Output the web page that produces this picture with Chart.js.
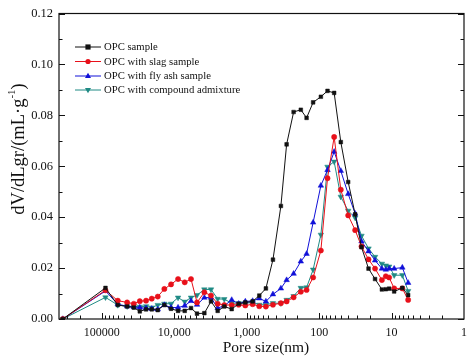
<!DOCTYPE html>
<html>
<head>
<meta charset="utf-8">
<script src="https://cdn.jsdelivr.net/npm/chart.js@4/dist/chart.umd.min.js"></script>
<style>
  html, body { margin: 0; padding: 0; background: #fff; }
  #wrap { width: 474px; height: 361px; }
</style>
</head>
<body>
<div id="wrap"><canvas id="chart" width="474" height="361"></canvas></div>
<script>
// Pore size (nm) of each measured point
const poreSize = [345000, 89000, 60200, 44700, 36200, 29900, 24500, 20450, 16900, 13700, 11070,
    8860, 7170, 5870, 4850, 3840, 3110, 2515, 2040, 1610, 1290, 1045, 828, 670, 543,
    434, 337, 281, 225, 179, 149, 121, 94.6, 76.6, 62.0, 50.2, 39.7, 31.8, 26.0, 20.8, 16.9, 13.6, 12.0, 10.8, 9.2, 7.1, 5.9];

const opcSample = [0, 0.0122, 0.0055, 0.0049, 0.0045, 0.0030, 0.0038, 0.0038, 0.0035, 0.0055, 0.0040,
    0.0032, 0.0032, 0.0043, 0.0021, 0.0023, 0.0069, 0.0032, 0.0049, 0.0039, 0.0060, 0.0065, 0.0069, 0.0092, 0.0120,
    0.0233, 0.0444, 0.0686, 0.0813, 0.0822, 0.0790, 0.0851, 0.0873, 0.0896, 0.0888, 0.0695, 0.0538, 0.0411, 0.0282, 0.0198, 0.0157, 0.0116, 0.0117, 0.0119, 0.0108, 0.0122, 0.0094];

const opcSlag = [0, 0.0113, 0.0072, 0.0065, 0.0060, 0.0070, 0.0072, 0.0080, 0.0088, 0.0118, 0.0136,
    0.0157, 0.0144, 0.0157, 0.0065, 0.0105, 0.0092, 0.0060, 0.0055, 0.0055, 0.0056, 0.0053, 0.0058, 0.0050, 0.0049,
    0.0056, 0.0062, 0.0069, 0.0085, 0.0107, 0.0114, 0.0163, 0.0269, 0.0553, 0.0715, 0.0508, 0.0407, 0.0349, 0.0285, 0.0234, 0.0198, 0.0153, 0.0168, 0.0163, 0.0120, 0.0120, 0.0075];

const opcFlyAsh = [0, 0.0110, 0.0058, 0.0050, 0.0047, 0.0045, 0.0042, 0.0040, 0.0038, 0.0055, 0.0045,
    0.0045, 0.0052, 0.0071, 0.0056, 0.0084, 0.0084, 0.0043, 0.0052, 0.0075, 0.0060, 0.0069, 0.0071, 0.0081, 0.0069,
    0.0097, 0.0120, 0.0153, 0.0178, 0.0226, 0.0256, 0.0379, 0.0524, 0.0585, 0.0657, 0.0582, 0.0491, 0.0414, 0.0305, 0.0266, 0.0230, 0.0198, 0.0194, 0.0198, 0.0198, 0.0202, 0.0142];

const opcCompound = [0, 0.0085, 0.0055, 0.0050, 0.0050, 0.0048, 0.0050, 0.0045, 0.0055, 0.0060, 0.0060,
    0.0084, 0.0068, 0.0084, 0.0094, 0.0116, 0.0116, 0.0079, 0.0078, 0.0062, 0.0062, 0.0062, 0.0065, 0.0056, 0.0056,
    0.0062, 0.0062, 0.0075, 0.0090, 0.0122, 0.0124, 0.0194, 0.0331, 0.0598, 0.0618, 0.0480, 0.0425, 0.0398, 0.0327, 0.0277, 0.0244, 0.0217, 0.0210, 0.0206, 0.0172, 0.0172, 0.0110];

const seriesNames = ['OPC sample', 'OPC with slag sample', 'OPC with fly ash sample', 'OPC with compound admixture'];
const xTickValues = [100000, 10000, 1000, 100, 10, 1];
const xTickLabels = ['100000', '10,000', '1,000', '100', '10', '1'];

const FONT = '"Liberation Serif", "DejaVu Serif", serif';

const styles = [
    { color: '#111111', point: 'rect', radius: 2.6, rotation: 0 },
    { color: '#e8101a', point: 'circle', radius: 2.6, rotation: 0 },
    { color: '#1010d8', point: 'triangle', radius: 3.2, rotation: 0 },
    { color: '#1f8a84', point: 'triangle', radius: 3.2, rotation: 180 }
];

function toPoints(values) {
    return values.map((v, i) => ({ x: poreSize[i], y: v }));
}

const allSeries = [opcSample, opcSlag, opcFlyAsh, opcCompound];

const datasets = allSeries.map((values, i) => ({
    label: seriesNames[i],
    data: toPoints(values),
    borderColor: styles[i].color,
    backgroundColor: styles[i].color,
    borderWidth: 1,
    pointStyle: styles[i].point,
    pointRadius: styles[i].radius,
    pointRotation: styles[i].rotation,
    pointBorderWidth: 0.5,
    tension: 0
}));

// draw one legend marker by hand
function drawMarker(ctx, style, x, y) {
    ctx.fillStyle = style.color;
    ctx.beginPath();
    const r = style.radius;
    if (style.point === 'rect') {
        ctx.rect(x - r, y - r, r * 2, r * 2);
    } else if (style.point === 'circle') {
        ctx.arc(x, y, r, 0, Math.PI * 2);
    } else {
        const dir = style.rotation === 180 ? -1 : 1;
        ctx.moveTo(x, y - dir * r);
        ctx.lineTo(x + r * 0.95, y + dir * r * 0.6);
        ctx.lineTo(x - r * 0.95, y + dir * r * 0.6);
        ctx.closePath();
    }
    ctx.fill();
}

const framePlugin = {
    id: 'frame',
    afterDraw(chart) {
        const ctx = chart.ctx;
        const area = chart.chartArea;
        const xs = chart.scales.x;
        const ys = chart.scales.y;
        ctx.save();
        ctx.strokeStyle = '#111';
        ctx.lineWidth = 1.2;
        ctx.strokeRect(area.left, area.top, area.right - area.left, area.bottom - area.top);

        // y ticks, inward on left and right
        ctx.lineWidth = 1;
        for (let k = 0; k <= 12; k++) {
            const y = Math.round(ys.getPixelForValue(k * 0.01)) + 0.5;
            const len = k % 2 === 0 ? 6 : 3.5;
            ctx.beginPath();
            ctx.moveTo(area.left, y); ctx.lineTo(area.left + len, y);
            ctx.moveTo(area.right, y); ctx.lineTo(area.right - len, y);
            ctx.stroke();
        }
        // x ticks, inward on bottom
        for (let d = 0; d <= 5; d++) {
            for (let m = 1; m <= 9; m++) {
                const v = m * Math.pow(10, d);
                if (v > xs.max) continue;
                const x = Math.round(xs.getPixelForValue(v)) + 0.5;
                if (x < area.left || x > area.right) continue;
                const len = m === 1 ? 6 : 3.5;
                ctx.beginPath();
                ctx.moveTo(x, area.bottom); ctx.lineTo(x, area.bottom - len);
                ctx.stroke();
            }
        }

        // axis titles
        ctx.fillStyle = '#111';
        ctx.font = '15.5px ' + FONT;
        ctx.textAlign = 'center';
        ctx.textBaseline = 'alphabetic';
        ctx.fillText('Pore size(nm)', 266, 352);

        ctx.translate(19, 149);
        ctx.rotate(-Math.PI / 2);
        ctx.textBaseline = 'middle';
        const main = 'dV/dLgr/(mL·g';
        const sup = '-1';
        const close = ')';
        ctx.font = '18.5px ' + FONT;
        const wMain = ctx.measureText(main).width;
        const wClose = ctx.measureText(close).width;
        ctx.font = '11px ' + FONT;
        const wSup = ctx.measureText(sup).width;
        const total = wMain + wSup + wClose;
        let x0 = -total / 2;
        ctx.textAlign = 'left';
        ctx.font = '18.5px ' + FONT;
        ctx.fillText(main, x0, 0);
        ctx.font = '11px ' + FONT;
        ctx.fillText(sup, x0 + wMain, -7);
        ctx.font = '18.5px ' + FONT;
        ctx.fillText(close, x0 + wMain + wSup, 0);
        ctx.restore();

        // legend inside plot
        ctx.save();
        const rows = [47, 61.5, 76, 90];
        ctx.font = '10.7px ' + FONT;
        ctx.textBaseline = 'middle';
        ctx.textAlign = 'left';
        rows.forEach((y, i) => {
            ctx.strokeStyle = styles[i].color;
            ctx.lineWidth = 1;
            ctx.beginPath();
            ctx.moveTo(75, y); ctx.lineTo(101, y);
            ctx.stroke();
            drawMarker(ctx, styles[i], 88, y);
            ctx.fillStyle = '#111';
            ctx.fillText(seriesNames[i], 104, y + 0.5);
        });
        ctx.restore();
    }
};

new Chart(document.getElementById('chart'), {
    type: 'line',
    data: { datasets: datasets },
    options: {
        responsive: false,
        animation: false,
        layout: { padding: { left: 0, right: 9, top: 10, bottom: 0 } },
        plugins: {
            legend: { display: false },
            tooltip: { enabled: false }
        },
        scales: {
            x: {
                type: 'logarithmic',
                reverse: true,
                min: 1,
                max: 390000,
                grid: { display: false, drawTicks: false },
                border: { display: false },
                afterBuildTicks: scale => {
                    scale.ticks = xTickValues.map(v => ({ value: v }));
                },
                afterFit: scale => { scale.height = 42; },
                ticks: {
                    autoSkip: false,
                    maxRotation: 0,
                    padding: 7,
                    color: '#111',
                    font: { family: FONT, size: 12 },
                    callback: value => {
                        const idx = xTickValues.indexOf(value);
                        return idx >= 0 ? xTickLabels[idx] : '';
                    }
                }
            },
            y: {
                min: 0,
                max: 0.12,
                grid: { display: false, drawTicks: false },
                border: { display: false },
                afterFit: scale => { scale.width = 59; },
                ticks: {
                    stepSize: 0.02,
                    padding: 6,
                    color: '#111',
                    font: { family: FONT, size: 12.5 },
                    callback: value => value.toFixed(2)
                }
            }
        }
    },
    plugins: [framePlugin]
});
</script>
</body>
</html>
